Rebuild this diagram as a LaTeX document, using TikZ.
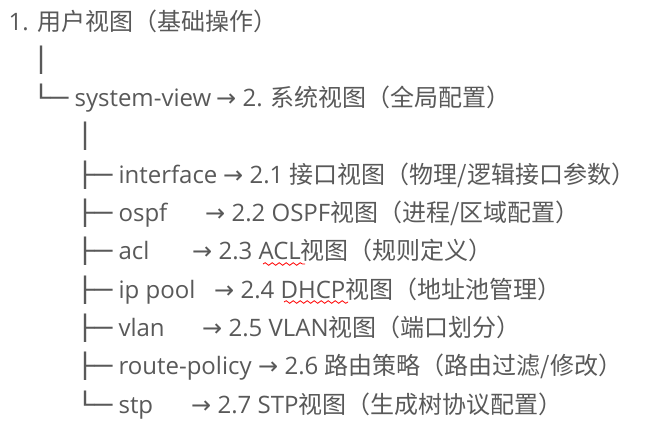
\documentclass[tikz,border=0pt]{standalone}
\usepackage{fontspec}
\setmainfont{Open Sans}
\newfontfamily\zhfont{Noto Sans CJK SC}
\newfontfamily\treefont[FakeStretch=1.25]{DejaVu Sans Mono}
\newfontfamily\arrowfont{DejaVu Sans}
\usetikzlibrary{decorations.pathmorphing}
\definecolor{txtgray}{RGB}{89,89,89}
\newcommand{\zh}[1]{{\zhfont #1}}
\newcommand{\treech}[1]{{\treefont #1}}
\newcommand{\toarrow}{{\arrowfont →}}

\begin{document}
\begin{tikzpicture}[x=1pt,y=-1pt,
    line/.style={anchor=base west,inner sep=0pt,text=txtgray,
      font=\fontsize{24}{28}\selectfont},
    squiggle/.style={red,line width=0.8pt,decorate,
      decoration={snake,amplitude=1.3pt,segment length=7pt}}]
  \useasboundingbox[fill=white] (0,0) rectangle (654,426);

  % top level
  \node[line] (user)  at (8.5,30)    {1. \zh{用户视图（基础操作）}};
  \node[line] (bar1)  at (32,68.3)   {\treech{│}};
  \node[line] (sys)   at (32,106.6)  {\treech{└─} system-view};
  \node[line] (sysv)  at (216,106.6) {\toarrow{} 2. \zh{系统视图（全局配置）}};
  \node[line] (bar2)  at (76,144.9)  {\treech{│}};

  % system-view children
  \node[line] (intf)  at (76,183.2)  {\treech{├─} interface};
  \node[line] (intfv) at (223,183.2) {\toarrow{} 2.1 \zh{接口视图（物理/逻辑接口参数）}};
  \node[line] (ospf)  at (76,221.5)  {\treech{├─} ospf};
  \node[line] (ospfv) at (205,221.5) {\toarrow{} 2.2 OSPF\zh{视图（进程/区域配置）}};
  \node[line] (acl)   at (76,259.8)  {\treech{├─} acl};
  \node[line] (aclv)  at (192,259.8) {\toarrow{} 2.3 ACL\zh{视图（规则定义）}};
  \node[line] (pool)  at (76,298.1)  {\treech{├─} ip pool};
  \node[line] (poolv) at (214,298.1) {\toarrow{} 2.4 DHCP\zh{视图（地址池管理）}};
  \node[line] (vlan)  at (76,336.4)  {\treech{├─} vlan};
  \node[line] (vlanv) at (202,336.4) {\toarrow{} 2.5 VLAN\zh{视图（端口划分）}};
  \node[line] (rp)    at (76,374.7)  {\treech{├─} route-policy};
  \node[line] (rpv)   at (258,374.7) {\toarrow{} 2.6 \zh{路由策略（路由过滤/修改）}};
  \node[line] (stp)   at (76,413)    {\treech{└─} stp};
  \node[line] (stpv)  at (191,413)   {\toarrow{} 2.7 STP\zh{视图（生成树协议配置）}};

  % spell-check marks
  \draw[squiggle] (263,264) -- (305,264);
  \draw[squiggle] (284,302) -- (348,302);
\end{tikzpicture}
\end{document}
